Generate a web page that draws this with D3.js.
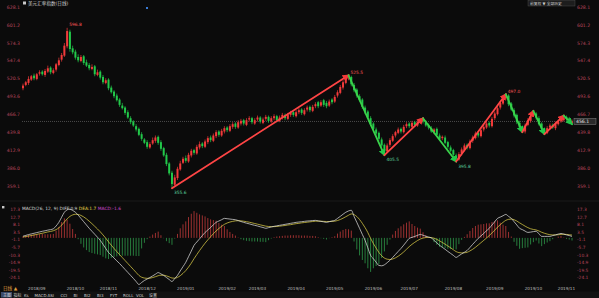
<!DOCTYPE html>
<html>
<head>
<meta charset="utf-8">
<script src="https://cdn.jsdelivr.net/npm/d3@7"></script>
<style>
  html, body { margin: 0; padding: 0; background: #0b0b0b; }
  svg { display: block; }
  text { font-family: "DejaVu Sans", "Noto Sans CJK SC", sans-serif; }
</style>
</head>
<body>
<svg id="chart"></svg>
<script>
// <====================== daily candles ======================>
const open = [
  506,511,514,519,525,520,528,531,526,531, 537,529,534,541,549,555,569,591,566,561,
  553,547,554,545,541,535,539,526,531,523, 514,519,507,501,495,489,480,477,470,461,
  456,449,445,437,429,425,417,423,427,433, 425,416,406,393,379,361,371,384,394,401,
  396,405,413,408,417,423,418,425,432,427, 434,441,435,441,447,442,448,453,447,453,
  458,451,459,461,453,459,462,454,460,463, 456,461,464,457,462,466,460,466,470,464,
  470,474,467,474,478,472,479,485,480,488, 484,480,489,486,495,499,507,514,521,523,
  511,504,494,489,477,471,461,453,444,439, 429,421,411,421,427,435,439,445,440,449,
  453,448,455,450,456,459,455,451,446,440, 445,435,431,432,425,417,413,405,399,408,
  413,421,416,427,431,439,434,444,447,454, 449,461,467,477,483,491,495,483,473,466,
  454,448,441,451,457,465,468,461,453,444, 439,447,451,446,452,457,458,463,461,454
];
const high = [
  513,517,524,526,528,529,533,533,535,540, 539,536,544,552,559,574,596.8,594,570,564,
  557,556,556,549,544,542,541,534,533,526, 521,521,510,503,498,491,484,479,473,464,
  458,452,447,440,431,428,425,432,435,435, 428,418,409,395,382,376,388,397,403,405,
  409,415,415,421,426,425,429,434,435,438, 443,443,445,449,449,452,455,455,458,460,
  460,461,464,463,461,465,464,462,466,465, 464,467,466,465,469,468,469,472,472,473,
  476,476,476,480,480,481,485,487,488,490, 487,489,491,496,503,511,518,523,525.5,525,
  514,506,497,491,480,473,464,455,447,441, 432,423,423,431,437,442,447,447,451,455,
  455,457,457,458,461,461,458,453,449,446, 447,438,435,435,427,420,415,408,410,417,
  423,423,429,435,441,441,446,451,456,456, 463,471,479,487,493,497,497,485,476,468,
  457,450,453,461,467,472,470,464,455,447, 449,453,453,456,459,462,465,465,463,459
];
const low = [
  503,509,511,517,518,518,525,525,523,529, 527,527,531,539,546,553,566,561,557,549,
  545,545,541,538,533,533,524,524,519,512, 512,503,498,491,486,478,474,466,460,452,
  448,441,434,427,422,415,415,421,424,421, 412,403,389,375,355.6,359,368,382,392,394,
  394,402,406,406,414,416,416,422,425,425, 431,433,433,438,440,440,445,445,445,450,
  450,449,456,452,451,456,453,452,457,454, 454,458,455,455,459,458,458,463,463,462,
  467,466,465,471,470,470,476,476,478,478, 476,478,482,484,492,497,504,512,518,509,
  500,492,486,475,467,460,449,443,435,427, 417,405.5,409,418,425,432,437,438,438,446,
  446,446,448,448,453,453,448,444,439,437, 433,428,428,422,415,410,403,395.8,397,405,
  411,414,414,424,429,432,432,441,445,447, 447,458,465,474,481,488,479,472,462,452,
  444,440,438,449,454,463,459,450,442,437, 437,444,445,443,450,454,456,457,452,452
];
const close = [
  510,515,520,524,521,527,530,527,532,536, 530,533,542,548,556,570,592,565,560,552,
  548,553,544,540,536,538,527,530,522,515, 518,506,500,494,488,481,476,469,462,455,
  450,444,436,430,424,418,422,428,432,424, 415,405,392,378,362,372,385,393,400,397,
  406,412,409,418,422,419,426,431,428,435, 440,436,442,446,443,449,452,448,455,457,
  453,458,461,455,458,462,456,459,463,457, 461,464,458,462,466,461,466,469,466,470,
  473,469,473,477,473,478,482,479,485,481, 479,486,485,493,500,508,515,520,522,512,
  503,495,488,478,470,462,452,445,438,430, 420,412,420,428,434,440,444,441,448,452,
  449,454,451,455,458,456,450,447,441,444, 436,430,433,424,418,412,406,400,407,414,
  420,417,426,432,438,435,443,448,453,450, 460,468,476,484,490,494,482,474,465,455,
  447,442,450,458,464,469,462,452,445,440, 446,450,447,453,456,459,462,460,455,456
];

// <====================== MACD(26,12,9) ======================>
const dif = [
  1.0,1.5,2.0,2.4,2.8,3.2,3.6,4.0,4.3,4.7, 5.0,5.5,7.2,9.4,12.5,15.5,17.0,17.3,16.6,15.5,
  13.8,11.8,9.8,7.8,5.8,4.0,2.2,0.4,-1.5,-3.9, -6.4,-8.8,-10.5,-12.2,-13.9,-15.5,-17.3,-19.1,-20.9,-22.7,
  -24.5,-26.4,-28.2,-27.0,-25.8,-24.9,-24.0,-23.0,-22.0,-21.0, -21.8,-22.7,-24.0,-25.2,-26.4,-24.6,-22.7,-20.0,-17.4,-14.8,
  -11.4,-8.0,-4.5,-2.5,-0.6,1.4,3.3,4.8,6.3,7.9, 9.4,10.2,11.0,11.8,11.6,11.4,11.2,11.0,10.5,9.9,
  9.4,8.9,8.5,8.0,7.6,7.2,6.7,6.3,5.8,6.2, 6.6,7.0,7.3,7.6,7.9,8.2,8.5,8.8,9.1,9.4,
  9.6,9.8,10.0,10.2,10.3,10.5,10.6,10.3,10.0,9.7, 9.4,9.8,10.2,10.6,11.8,13.0,14.3,15.5,16.3,16.7,
  13.0,9.4,5.8,2.1,-1.5,-6.0,-10.6,-12.6,-14.7,-16.7, -16.9,-16.3,-15.0,-13.6,-11.8,-10.0,-8.2,-6.4,-4.4,-2.3,
  -0.3,0.3,0.9,1.5,2.1,1.6,1.0,0.5,0.0,-1.5, -3.0,-4.5,-5.7,-6.9,-8.2,-9.4,-10.6,-11.8,-10.8,-9.7,
  -8.7,-7.6,-5.8,-3.9,-2.1,-0.3,1.2,2.7,4.3,5.8, 7.8,9.8,11.8,12.6,13.4,14.2,13.0,11.8,9.8,7.8,
  5.8,5.0,4.1,3.3,3.5,3.8,4.0,2.5,0.9,0.9, 0.9,0.9,1.4,1.8,2.3,2.7,2.3,1.8,1.4,0.9
];
const dea = [
  0.5,0.8,1.1,1.4,1.75,2.1,2.5,2.8,3.2,3.6, 3.9,4.3,5.0,6.1,7.7,9.6,11.5,13.0,13.9,14.3,
  14.2,13.6,12.7,11.5,10.1,8.6,7.0,5.4,3.7,1.8, -0.2,-2.4,-4.4,-6.4,-8.3,-10.1,-11.9,-13.7,-15.5,-17.3,
  -19.1,-20.9,-22.7,-23.8,-24.3,-24.5,-24.4,-24.0,-23.5,-22.9, -22.6,-22.6,-23.0,-23.6,-24.3,-24.4,-23.9,-22.9,-21.5,-19.8,
  -17.7,-15.3,-12.6,-10.1,-7.7,-5.4,-3.2,-1.2,0.7,2.5, 4.2,5.7,7.0,8.2,9.0,9.6,10.0,10.3,10.4,10.3,
  10.1,9.8,9.5,9.1,8.7,8.3,7.9,7.5,7.1,6.9, 6.8,6.8,6.9,7.1,7.3,7.5,7.8,8.0,8.3,8.6,
  8.8,9.1,9.3,9.5,9.7,9.9,10.1,10.1,10.1,10.0, 9.9,9.9,10.0,10.1,10.5,11.1,11.9,12.8,13.7,14.5,
  14.1,12.9,11.1,8.8,6.2,3.2,-0.3,-3.4,-6.2,-8.8, -10.8,-12.2,-12.9,-13.1,-12.8,-12.1,-11.1,-9.9,-8.5,-6.9,
  -5.3,-3.9,-2.7,-1.6,-0.7,-0.1,0.2,0.3,0.2,-0.2, -0.9,-1.8,-2.8,-3.8,-4.9,-6.0,-7.2,-8.3,-8.9,-9.1,
  -9.0,-8.7,-7.9,-6.9,-5.7,-4.3,-2.9,-1.5,-0.1,1.4, 3.0,4.7,6.5,8.0,9.4,10.6,11.2,11.4,11.0,10.2,
  9.1,8.1,7.1,6.2,5.5,5.1,4.8,4.2,3.4,2.8, 2.3,1.9,1.8,1.8,1.9,2.1,2.2,2.1,1.9,1.7
];
const macdBar = [
  1.0,1.4,1.8,2.0,2.1,2.2,2.2,2.4,2.2,2.2, 2.2,2.4,4.4,6.6,9.6,11.8,11.0,8.6,5.4,2.4,
  -0.8,-3.6,-5.8,-7.4,-8.6,-9.2,-9.6,-10.0,-10.4,-11.4, -12.4,-12.8,-12.2,-11.6,-11.2,-10.8,-10.8,-10.8,-10.8,-10.8,
  -10.8,-11.0,-11.0,-6.4,-3.0,-0.8,0.8,2.0,3.0,3.8, 1.6,-0.2,-2.0,-3.2,-4.2,-0.4,2.4,5.8,8.2,10.0,
  12.6,14.6,16.2,15.2,14.2,13.6,13.0,12.0,11.2,10.8, 10.4,9.0,8.0,7.2,5.2,3.6,2.4,1.4,0.2,-0.8,
  -1.4,-1.8,-2.0,-2.2,-2.2,-2.2,-2.4,-2.4,-2.6,-1.4, -0.4,0.4,0.8,1.0,1.2,1.4,1.4,1.6,1.6,1.6,
  1.6,1.4,1.4,1.4,1.2,1.2,1.0,0.4,-0.2,-0.6, -1.0,-0.2,0.4,1.0,2.6,3.8,4.8,5.4,5.2,4.4,
  -2.2,-7.0,-10.6,-13.4,-15.4,-18.4,-20.6,-18.4,-17.0,-15.8, -12.2,-8.2,-4.2,-1.0,2.0,4.2,5.8,7.0,8.2,9.2,
  10.0,8.4,7.2,6.2,5.6,3.4,1.6,0.4,-0.4,-2.6, -4.2,-5.4,-5.8,-6.2,-6.6,-6.8,-6.8,-7.0,-3.8,-1.2,
  0.6,2.2,4.2,6.0,7.2,8.0,8.2,8.4,8.8,8.8, 9.6,10.2,10.6,9.2,8.0,7.2,3.6,0.8,-2.4,-4.8,
  -6.6,-6.2,-6.0,-5.8,-4.0,-2.6,-1.6,-3.4,-5.0,-3.8, -2.8,-2.0,-0.8,0.0,0.8,1.2,0.2,-0.6,-1.0,-1.6
];

// axis ticks / labels
const priceTicks = [628.1, 601.2, 574.3, 547.4, 520.5, 493.6, 466.7, 439.8, 412.9, 386.0, 359.1];
const macdTicks = [17.3, 12.7, 8.1, 3.5, -1.1, -5.7, -10.3, -14.9, -19.5, -24.1];
const monthLabels = ["2018/09","2018/10","2018/11","2018/12","2019/01","2019/02","2019/03","2019/04",
  "2019/05","2019/06","2019/07","2019/08","2019/09","2019/10","2019/11"];
const monthIndex = [5, 19, 31, 45, 59, 74, 85, 99, 113, 127, 140, 156, 171, 185, 197];

// swing (wave) lines and the high/low marks
const waveIndex = [54, 118, 131, 145, 157, 175, 181, 185, 189, 196, 199];
const waveValue = [355.6, 525.5, 405.5, 461, 395.8, 497, 440, 472, 437, 465, 452];
const markIndex = [16, 54, 118, 131, 157, 175];
const markValue = [596.8, 355.6, 525.5, 405.5, 395.8, 497.0];
const markKind = ["high", "low", "high", "low", "low", "high"];

const lastPrice = 456.1;
const toolbarItems = ["主图", "指标", "Ks", "MACD", "ASI", "CCI", "BI", "BI2", "BI3", "FYT", "ROLL", "VOL", "设置"];

// <====================== setup ======================>
const width = 599, height = 298;
const UP = "#f23a3a", DOWN = "#22c94a", AXIS_TXT = "#b8465c";

const svg = d3.select("#chart").attr("width", width).attr("height", height);
svg.append("rect").attr("width", width).attr("height", height).attr("fill", "#0b0b0b");

const N = close.length;
const x = d3.scaleBand().domain(d3.range(N)).range([22, 573]).paddingInner(0.28);
const xc = (i) => x(i) + x.bandwidth() / 2;
const y = d3.scaleLinear().domain([359.1, 628.1]).range([186, 7]);
const ym = d3.scaleLinear().domain([-24.1, 17.3]).range([277.7, 209.3]);

const defs = svg.append("defs");
[["up", UP], ["dn", DOWN]].forEach(([id, c]) => {
  defs.append("marker").attr("id", "arr-" + id)
    .attr("viewBox", "0 0 10 10").attr("refX", 8).attr("refY", 5)
    .attr("markerWidth", 4).attr("markerHeight", 4).attr("orient", "auto")
    .append("path").attr("d", "M0,0 L10,5 L0,10 z").attr("fill", c);
});

// title + little header bits
svg.append("rect").attr("x", 23).attr("y", 1.5).attr("width", 3).attr("height", 3).attr("fill", "#c8c8c8");
svg.append("text").attr("x", 28).attr("y", 5).attr("font-size", 4.6).attr("fill", "#d0d0d0")
  .text("美元汇率指数(日线)");
svg.append("rect").attr("x", 146).attr("y", 7).attr("width", 2).attr("height", 2).attr("fill", "#3a7bd5");
svg.append("rect").attr("x", 528).attr("y", 0.5).attr("width", 47).attr("height", 5.5)
  .attr("fill", "#1d1d1d").attr("stroke", "#555").attr("stroke-width", 0.4);
svg.append("text").attr("x", 530).attr("y", 4.6).attr("font-size", 3.8).attr("fill", "#cfcfcf")
  .text("前复权 ▼  全部历史");

// price axis labels, both sides
const priceLabels = svg.append("g");
priceTicks.forEach((t) => {
  priceLabels.append("text").attr("x", 20).attr("y", y(t) + 1.7).attr("text-anchor", "end")
    .attr("font-size", 4.6).attr("fill", AXIS_TXT).text(t.toFixed(1));
  priceLabels.append("text").attr("x", 577).attr("y", y(t) + 1.7)
    .attr("font-size", 4.6).attr("fill", AXIS_TXT).text(t.toFixed(1));
});

// last price dashed line
svg.append("line").attr("x1", 22).attr("x2", 573).attr("y1", y(lastPrice)).attr("y2", y(lastPrice))
  .attr("stroke", "#8a8a8a").attr("stroke-width", 0.5).attr("stroke-dasharray", "1,1");

// candles
const candles = svg.append("g").selectAll("g").data(d3.range(N)).enter().append("g");
candles.append("line")
  .attr("x1", xc).attr("x2", xc)
  .attr("y1", (i) => y(high[i])).attr("y2", (i) => y(low[i]))
  .attr("stroke", (i) => close[i] >= open[i] ? UP : DOWN).attr("stroke-width", 0.7);
candles.append("rect")
  .attr("x", (i) => x(i)).attr("width", x.bandwidth())
  .attr("y", (i) => y(Math.max(open[i], close[i])))
  .attr("height", (i) => Math.max(0.8, Math.abs(y(open[i]) - y(close[i]))))
  .attr("fill", (i) => close[i] >= open[i] ? UP : DOWN);

// wave lines
const waves = svg.append("g");
for (let k = 0; k < waveIndex.length - 1; k++) {
  const upLeg = waveValue[k + 1] > waveValue[k];
  waves.append("line")
    .attr("x1", xc(waveIndex[k])).attr("y1", y(waveValue[k]))
    .attr("x2", xc(waveIndex[k + 1])).attr("y2", y(waveValue[k + 1]))
    .attr("stroke", upLeg ? "#ff4545" : "#3ad24a").attr("stroke-width", 1.8)
    .attr("stroke-linecap", "round")
    .attr("marker-end", upLeg ? "url(#arr-up)" : "url(#arr-dn)");
}

// high / low marks
markIndex.forEach((idx, k) => {
  const hi = markKind[k] === "high";
  svg.append("text")
    .attr("x", xc(idx) + 2).attr("y", hi ? y(markValue[k]) - 1.5 : y(markValue[k]) + 6)
    .attr("font-size", 4.4).attr("fill", hi ? "#ff5a5a" : "#5fd6a0")
    .text(markValue[k].toFixed(1));
});

// last price tag on the right
svg.append("rect").attr("x", 574).attr("y", y(lastPrice) - 3.2).attr("width", 22).attr("height", 6.4)
  .attr("fill", "#2a2a2a").attr("stroke", "#9a9a9a").attr("stroke-width", 0.4);
svg.append("text").attr("x", 576).attr("y", y(lastPrice) + 1.7).attr("font-size", 4.6)
  .attr("fill", "#e6e6e6").text(lastPrice.toFixed(1));

// <====================== MACD panel ======================>
svg.append("line").attr("x1", 0).attr("x2", width).attr("y1", 201).attr("y2", 201)
  .attr("stroke", "#262626").attr("stroke-width", 0.6);

const macdLegend = svg.append("text").attr("x", 22).attr("y", 209.5).attr("font-size", 4.4);
macdLegend.append("tspan").attr("fill", "#d8d8d8").text("MACD(26, 12, 9) DIFF:" + dif[N - 1].toFixed(1) + "  ");
macdLegend.append("tspan").attr("fill", "#e8d84a").text("DEA:" + dea[N - 1].toFixed(1) + "  ");
macdLegend.append("tspan").attr("fill", "#d24ad2").text("MACD:" + macdBar[N - 1].toFixed(1));
svg.append("rect").attr("x", 2).attr("y", 206).attr("width", 2.4).attr("height", 2.4).attr("fill", "#c8c8c8");

macdTicks.forEach((t) => {
  svg.append("text").attr("x", 20).attr("y", ym(t) + 1.7).attr("text-anchor", "end")
    .attr("font-size", 4.4).attr("fill", AXIS_TXT).text(t.toFixed(1));
  svg.append("text").attr("x", 577).attr("y", ym(t) + 1.7)
    .attr("font-size", 4.4).attr("fill", AXIS_TXT).text(t.toFixed(1));
});

svg.append("g").selectAll("line").data(d3.range(N)).enter().append("line")
  .attr("x1", xc).attr("x2", xc)
  .attr("y1", ym(0)).attr("y2", (i) => ym(macdBar[i]))
  .attr("stroke", (i) => macdBar[i] >= 0 ? "#c23a3a" : "#2f9a4a").attr("stroke-width", 0.8);

const macdLine = (arr) => d3.line().x((d, i) => xc(i)).y((d) => ym(d)).curve(d3.curveMonotoneX)(arr);
svg.append("path").attr("d", macdLine(dea)).attr("fill", "none").attr("stroke", "#e8d84a").attr("stroke-width", 0.7);
svg.append("path").attr("d", macdLine(dif)).attr("fill", "none").attr("stroke", "#e6e6e6").attr("stroke-width", 0.7);

// <====================== time axis + toolbar ======================>
monthIndex.forEach((idx, k) => {
  svg.append("text").attr("x", xc(idx)).attr("y", 290).attr("text-anchor", "middle")
    .attr("font-size", 4.2).attr("fill", "#bdbdbd").text(monthLabels[k]);
});

svg.append("text").attr("x", 3).attr("y", 290).attr("font-size", 4.6).attr("fill", "#e0a040").text("日线 ▲");

svg.append("rect").attr("x", 0).attr("y", 291.5).attr("width", width).attr("height", 6.5).attr("fill", "#121212");
let tx = 3;
toolbarItems.forEach((t, k) => {
  if (k === 0) {
    svg.append("rect").attr("x", 1).attr("y", 292).attr("width", 11).attr("height", 5.5).attr("fill", "#3a4a6a");
  }
  svg.append("text").attr("x", tx).attr("y", 296.6).attr("font-size", 4).attr("fill", "#cfcfcf").text(t);
  tx += t.length > 2 ? 13 : 10.5;
});
</script>
</body>
</html>
